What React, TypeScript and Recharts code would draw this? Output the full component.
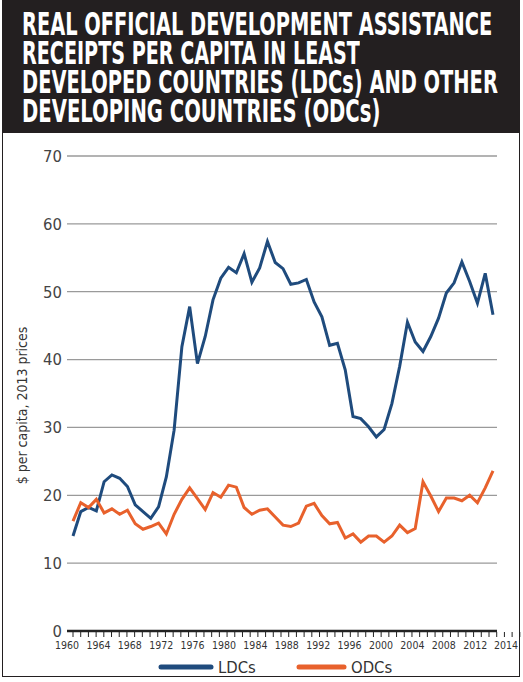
import React, { useLayoutEffect, useRef, useState } from 'react';
import { LineChart, Line, XAxis, YAxis, CartesianGrid } from 'recharts';

const YEARS = [
  1960, 1961, 1962, 1963, 1964, 1965, 1966, 1967, 1968, 1969,
  1970, 1971, 1972, 1973, 1974, 1975, 1976, 1977, 1978, 1979,
  1980, 1981, 1982, 1983, 1984, 1985, 1986, 1987, 1988, 1989,
  1990, 1991, 1992, 1993, 1994, 1995, 1996, 1997, 1998, 1999,
  2000, 2001, 2002, 2003, 2004, 2005, 2006, 2007, 2008, 2009,
  2010, 2011, 2012, 2013, 2014,
];

const LDC = [
  14.0, 17.6, 18.2, 17.7, 22.0, 23.0, 22.5, 21.3, 18.6, 17.6,
  16.6, 18.3, 22.7, 29.6, 41.9, 47.8, 39.4, 43.4, 48.8, 52.0,
  53.6, 52.8, 55.6, 51.4, 53.5, 57.4, 54.3, 53.4, 51.1, 51.3,
  51.8, 48.5, 46.3, 42.1, 42.4, 38.5, 31.6, 31.3, 30.1, 28.6,
  29.7, 33.5, 39.0, 45.5, 42.6, 41.2, 43.4, 46.1, 49.8, 51.3,
  54.4, 51.5, 48.3, 52.7, 46.6,
];

const ODC = [
  16.2, 18.9, 18.2, 19.4, 17.4, 18.0, 17.2, 17.8, 15.8, 15.0,
  15.4, 15.9, 14.3, 17.2, 19.4, 21.1, 19.5, 17.9, 20.4, 19.7,
  21.5, 21.2, 18.2, 17.2, 17.8, 18.0, 16.8, 15.6, 15.4, 15.9,
  18.4, 18.8, 17.0, 15.8, 16.0, 13.7, 14.3, 13.1, 14.0, 14.0,
  13.1, 14.0, 15.6, 14.5, 15.1, 22.0, 19.9, 17.6, 19.6, 19.6,
  19.2, 20.0, 18.9, 21.1, 23.6,
];

const X_TICKS = [1960, 1964, 1968, 1972, 1976, 1980, 1984, 1988, 1992, 1996, 2000, 2004, 2008, 2012, 2014];
const Y_TICKS = [0, 10, 20, 30, 40, 50, 60, 70];
const MINOR_TICKS = Array.from({ length: 96 }, (_, i) => i);

const TITLE_LINES = [
  'REAL OFFICIAL DEVELOPMENT ASSISTANCE',
  'RECEIPTS PER CAPITA IN LEAST',
  'DEVELOPED COUNTRIES (LDCs) AND OTHER',
  'DEVELOPING COUNTRIES (ODCs)',
];
const TITLE_WIDTHS = [470, 338, 476, 358];

const Y_LABEL = '$ per capita, 2013 prices';

const SERIES = [
  { key: 'ldc', name: 'LDCs', color: '#1f4b7d' },
  { key: 'odc', name: 'ODCs', color: '#e8612c' },
];

const data = YEARS.map((year, i) => ({ year, ldc: LDC[i], odc: ODC[i] }));

const FONT = "'Liberation Sans Narrow', 'Arial Narrow', 'DejaVu Sans Condensed', sans-serif";

const XTick = (props: any) => {
  const { x, y, payload } = props;
  const v = payload.value;
  const dx = v === 2014 ? 13 : -6 + (v - 1960) * 0.072;
  return (
    <text x={x + dx} y={y} dy="0.71em" textAnchor="middle" fontSize={10.5} fill="#333" fontFamily={FONT}>
      {v}
    </text>
  );
};

const NoTick = () => <g />;

const YLabel = (props: any) => {
  const { viewBox } = props;
  const cx = viewBox.x + 22;
  const cy = viewBox.y + viewBox.height / 2 + 12;
  return (
    <text
      x={cx}
      y={cy}
      transform={`rotate(-90, ${cx}, ${cy})`}
      textAnchor="middle"
      dominantBaseline="central"
      fontSize={14}
      fill="#333"
      fontFamily={FONT}
    >
      {Y_LABEL}
    </text>
  );
};

const TITLE_FS = 24.5;
const TITLE_SY = 31.5 / 24.5;

function TitleLine({ text, width, top }: { text: string; width: number; top: number }) {
  const ref = useRef<HTMLSpanElement>(null);
  const [scale, setScale] = useState(1);
  useLayoutEffect(() => {
    if (ref.current) {
      const w = ref.current.offsetWidth;
      if (w > 0) setScale(width / w);
    }
  }, [text, width]);
  return (
    <div
      style={{
        position: 'absolute',
        left: 22,
        top,
        height: 28.5,
        lineHeight: '28.5px',
        whiteSpace: 'nowrap',
        color: '#fff',
        fontFamily: FONT,
        fontWeight: 'bold',
        fontSize: TITLE_FS,
        transform: `scale(${scale}, ${TITLE_SY})`,
        transformOrigin: 'left center',
      }}
    >
      <span ref={ref}>{text}</span>
    </div>
  );
}

export default function App() {
  return (
    <div style={{ position: 'absolute', left: 0, top: 0, width: 523, height: 682, background: '#fff' }}>
      <div
        style={{
          position: 'absolute',
          left: 2,
          top: 0,
          width: 516,
          height: 676,
          border: '1.5px solid #231f20',
          borderTop: 'none',
        }}
      />
      <div style={{ position: 'absolute', left: 2, top: 0, width: 517, height: 133, background: '#231f20' }} />
      {TITLE_LINES.map((line, i) => (
        <TitleLine key={i} text={line} width={TITLE_WIDTHS[i]} top={10.9 + i * 28.9} />
      ))}
      <div style={{ position: 'absolute', left: 0, top: 0 }}>
        <LineChart width={523} height={682} data={data} margin={{ top: 156, right: 26, left: 0, bottom: 49 }}>
          <CartesianGrid horizontal vertical={false} stroke="#9a9a9a" strokeWidth={1.3} />
          <XAxis
            dataKey="year"
            type="number"
            domain={[1960, 2014]}
            ticks={X_TICKS}
            interval={0}
            padding={{ left: 6, right: 4 }}
            height={1}
            axisLine={{ stroke: '#222', strokeWidth: 2.6 }}
            tickLine={false}
            tickSize={0}
            tickMargin={11}
            tick={<XTick />}
          />
          <XAxis
            xAxisId="minor"
            type="number"
            domain={[0, 95]}
            ticks={MINOR_TICKS}
            interval={0}
            padding={{ left: 6, right: 8 }}
            height={1}
            axisLine={false}
            tickLine={{ stroke: '#222', strokeWidth: 1 }}
            tickSize={5}
            tick={<NoTick />}
          />
          <YAxis
            domain={[0, 70]}
            ticks={Y_TICKS}
            interval={0}
            width={67}
            axisLine={false}
            tickLine={false}
            tickSize={0}
            tickMargin={5}
            tick={{ fontSize: 16.5, fill: '#444', fontFamily: FONT }}
            label={<YLabel />}
          />
          {SERIES.map((s) => (
            <Line
              key={s.key}
              type="linear"
              dataKey={s.key}
              name={s.name}
              stroke={s.color}
              strokeWidth={3}
              dot={false}
              isAnimationActive={false}
            />
          ))}
        </LineChart>
      </div>
      <svg width={523} height={30} style={{ position: 'absolute', left: 0, top: 652 }}>
        {SERIES.map((s, i) => {
          const x0 = i === 0 ? 161 : 299;
          const x1 = i === 0 ? 211 : 344;
          return (
            <g key={s.key}>
              <line x1={x0} y1={15} x2={x1} y2={15} stroke={s.color} strokeWidth={5} strokeLinecap="round" />
              <text x={x1 + 7} y={15} dy="0.36em" fontSize={16.5} fill="#333" fontFamily={FONT}>
                {s.name}
              </text>
            </g>
          );
        })}
      </svg>
    </div>
  );
}
